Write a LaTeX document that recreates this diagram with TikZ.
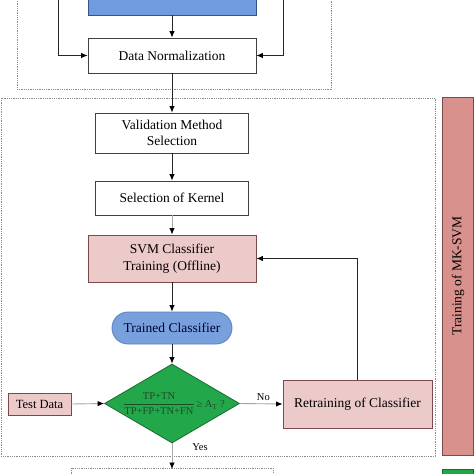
\documentclass[tikz,border=0pt]{standalone}
\usepackage{fontspec}
\setmainfont{Liberation Serif}
\usetikzlibrary{arrows.meta,shapes.geometric}
\definecolor{bluefill}{HTML}{6F9CDF}
\definecolor{blueedge}{HTML}{34528C}
\definecolor{tcfill}{HTML}{78A0DC}
\definecolor{tcedge}{HTML}{5A80C0}
\definecolor{pinkfill}{HTML}{ECCACA}
\definecolor{pinkedge}{HTML}{7A4A4A}
\definecolor{barfill}{HTML}{D9918D}
\definecolor{greenfill}{HTML}{22A84A}
\definecolor{greenedge}{HTML}{1A6A30}
\definecolor{formulatext}{HTML}{1D4A2A}
\definecolor{dotgray}{HTML}{8A8A8A}
\tikzset{
  every node/.style={font=\fontsize{13.5}{16.5}\selectfont, inner sep=0pt, align=center},
  whitebox/.style={draw=black!75, fill=white, line width=0.8pt},
  pinkbox/.style={draw=pinkedge, fill=pinkfill, line width=0.9pt},
  bluebox/.style={draw=blueedge, fill=bluefill, line width=0.9pt},
  tcbox/.style={draw=tcedge, fill=tcfill, line width=0.8pt, rounded corners=16pt, text=blue!20!black},
  diabox/.style={diamond, draw=greenedge, fill=greenfill, line width=0.8pt},
  dotbox/.style={draw=dotgray, line width=0.8pt, dash pattern=on 1pt off 0.8pt},
  conn/.style={line width=0.9pt, draw=black!85, -{Latex[length=6.5pt,width=5.5pt,color=black]}},
  grayconn/.style={line width=0.9pt, draw=black!35, -{Latex[length=6.5pt,width=5.5pt,color=black]}},
  smalllabel/.style={font=\fontsize{10.5}{12}\selectfont}
}
\begin{document}
\begin{tikzpicture}[x=1pt,y=-1pt]
\useasboundingbox (0,0) rectangle (474,474);
\clip (0,0) rectangle (474,474);
\fill[white] (0,0) rectangle (474,474);

% dotted group boxes
\draw[dotbox] (17,-10) rectangle (331,89);
\draw[dotbox] (1,98) rectangle (435,456);
\draw[dotbox] (71,468) rectangle (273,490);

% side bars
\node[draw=pinkedge, fill=barfill, line width=0.8pt, minimum width=31pt, minimum height=358pt] (bar) at (458,276) {};
\node[rotate=90] (bartext) at (bar.center) {Training of MK-SVM};
\node[draw=greenedge, fill=greenfill, line width=0.8pt, minimum width=31pt, minimum height=30pt] (gbar) at (458,484) {};

% nodes
\node[bluebox, minimum width=168pt, minimum height=40pt] (top) at (172,-5) {};
\node[whitebox, minimum width=168pt, minimum height=35pt] (dn) at (172,55.5) {Data Normalization};
\node[whitebox, minimum width=153pt, minimum height=40pt] (val) at (172,133) {Validation Method\\Selection};
\node[whitebox, minimum width=153pt, minimum height=34pt] (ker) at (172,198) {Selection of Kernel};
\node[pinkbox, minimum width=168pt, minimum height=47pt] (svm) at (172,258.5) {SVM Classifier\\Training (Offline)};
\node[tcbox, minimum width=120pt, minimum height=32pt] (tc) at (172,328) {Trained Classifier};
\node[diabox, minimum width=135pt, minimum height=79pt] (dia) at (172,403.5) {};
\node[text=formulatext, font=\fontsize{10.5}{12}\selectfont] (formula) at (174,404) {$\displaystyle\frac{\mbox{TP+TN}}{\mbox{TP+FP+TN+FN}}$\,≥ A\textsubscript{T} ?};
\node[pinkbox, minimum width=63pt, minimum height=22pt, font=\fontsize{12.5}{15}\selectfont] (test) at (39.5,404) {Test Data};
\node[pinkbox, minimum width=149pt, minimum height=48pt] (ret) at (357.5,404) {Retraining of Classifier};

% coordinates
\coordinate (tl) at (58,-5);
\coordinate (tr) at (283,-5);
\coordinate (bottomin) at (172,469);

% connectors
\draw[conn] (tl) |- (dn.west);
\draw[conn] (tr) |- (dn.east);
\draw[conn] (top.south) -- (dn.north);
\draw[conn] (dn.south) -- (val.north);
\draw[conn] (val.south) -- (ker.north);
\draw[grayconn] (ker.south) -- (svm.north);
\draw[conn] (svm.south) -- (tc.north);
\draw[conn] (tc.south) -- (dia.north);
\draw[grayconn] (test.east) -- (dia.west);
\draw[grayconn] (dia.east) -- node[pos=0.55, above=3pt, smalllabel] (nolab) {No} (ret.west);
\draw[conn] (ret.north) |- (svm.east);
\draw[grayconn] (dia.south) -- (bottomin);
\node[smalllabel] (yeslab) at (200,447) {Yes};
\end{tikzpicture}
\end{document}
